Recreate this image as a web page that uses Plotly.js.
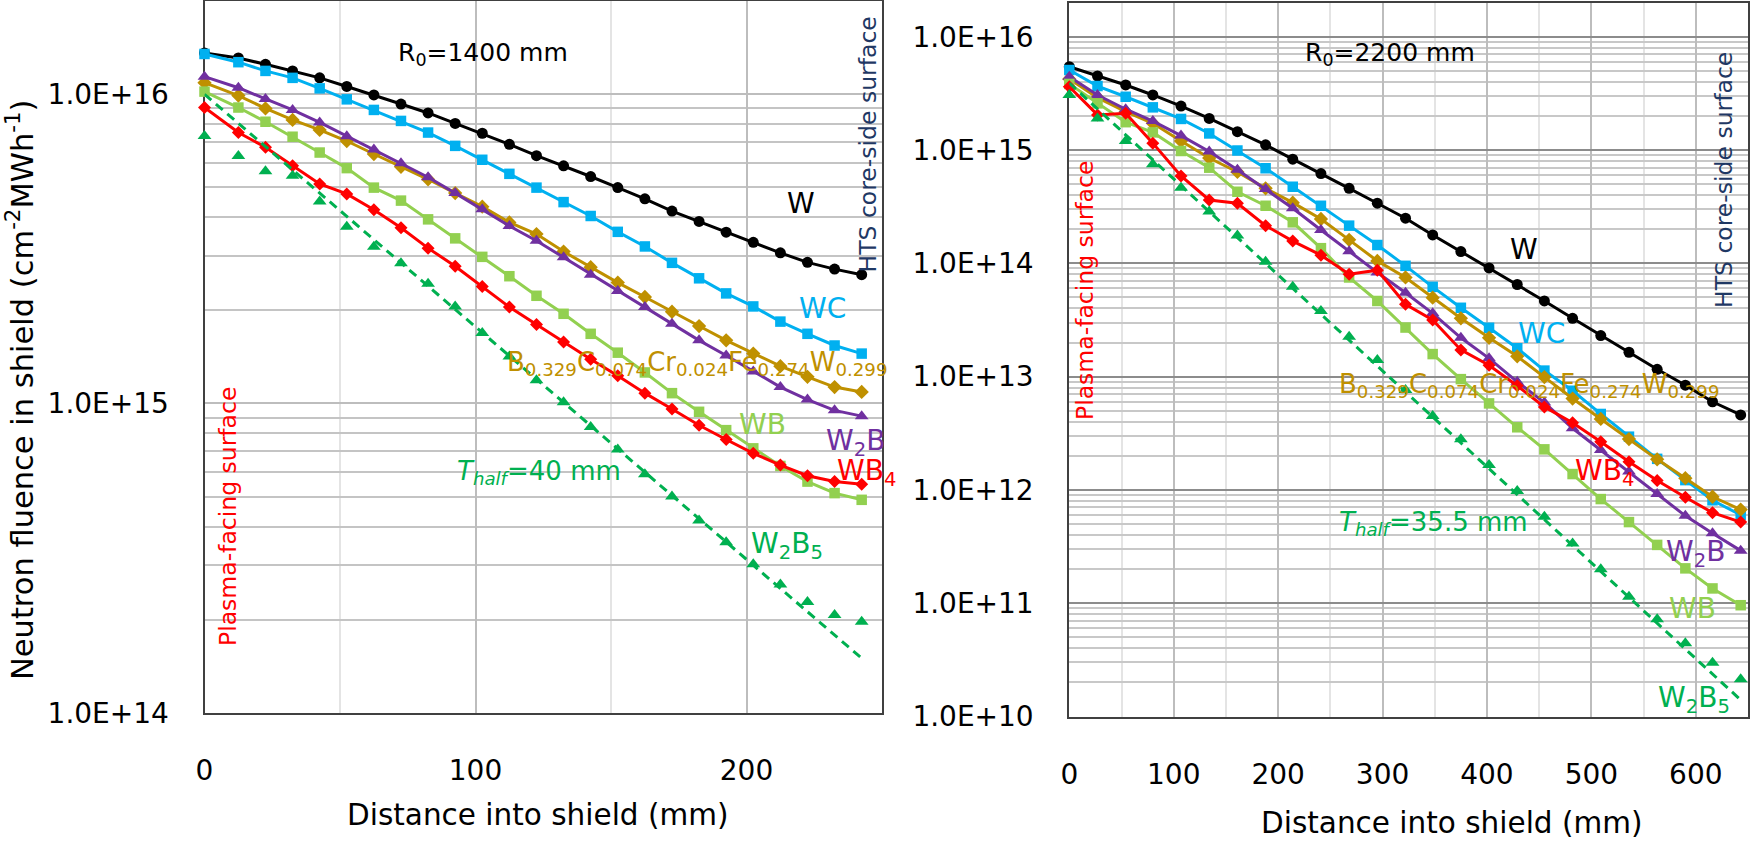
<!DOCTYPE html>
<html>
<head>
<meta charset="utf-8">
<script src="https://cdn.plot.ly/plotly-3.0.1.min.js"></script>
<style>
  html, body { margin: 0; padding: 0; background: #ffffff; }
  #chart { width: 1750px; height: 841px; }
</style>
</head>
<body>
<div id="chart"></div>
<script>
// ---- R0 = 1400 mm shield: depth (mm) and neutron fluence (cm^-2 MWh^-1) ----
const depth1400 = [0, 12.5, 22.5, 32.5, 42.5, 52.5, 62.5, 72.5, 82.5, 92.5, 102.5, 112.5, 122.5,
  132.5, 142.5, 152.5, 162.5, 172.5, 182.5, 192.5, 202.5, 212.5, 222.5, 232.5, 242.5];
const w1400 = [1.36e16, 1.31e16, 1.25e16, 1.19e16, 1.13e16, 1.06e16, 9.95e15, 9.3e15, 8.7e15, 8.05e15,
  7.48e15, 6.89e15, 6.33e15, 5.87e15, 5.42e15, 4.99e15, 4.59e15, 4.19e15, 3.88e15, 3.58e15,
  3.32e15, 3.07e15, 2.86e15, 2.72e15, 2.61e15];
const wc1400 = [1.35e16, 1.27e16, 1.19e16, 1.13e16, 1.045e16, 9.63e15, 8.9e15, 8.2e15, 7.52e15, 6.81e15,
  6.14e15, 5.53e15, 4.99e15, 4.48e15, 4.04e15, 3.59e15, 3.22e15, 2.85e15, 2.54e15, 2.27e15,
  2.06e15, 1.84e15, 1.68e15, 1.54e15, 1.45e15];
const w2b1400 = [1.14e16, 1.05e16, 9.66e15, 8.9e15, 8.11e15, 7.32e15, 6.63e15, 5.98e15, 5.39e15, 4.79e15,
  4.25e15, 3.75e15, 3.36e15, 2.97e15, 2.61e15, 2.31e15, 2.05e15, 1.81e15, 1.60e15, 1.43e15,
  1.27e15, 1.13e15, 1.03e15, 9.5e14, 9.1e14];
const alloy1400 = [1.09e16, 9.9e15, 9.0e15, 8.26e15, 7.67e15, 7.06e15, 6.41e15, 5.83e15, 5.31e15, 4.79e15,
  4.33e15, 3.85e15, 3.53e15, 3.10e15, 2.76e15, 2.46e15, 2.21e15, 1.98e15, 1.78e15, 1.60e15,
  1.45e15, 1.32e15, 1.22e15, 1.13e15, 1.09e15];
const wb1400 = [1.02e16, 9.06e15, 8.15e15, 7.29e15, 6.48e15, 5.77e15, 4.99e15, 4.53e15, 3.94e15, 3.42e15,
  2.98e15, 2.58e15, 2.23e15, 1.95e15, 1.68e15, 1.46e15, 1.26e15, 1.08e15, 9.4e14, 8.2e14,
  7.16e14, 6.28e14, 5.59e14, 5.13e14, 4.88e14];
const wb4_1400 = [9.06e15, 7.52e15, 6.74e15, 5.87e15, 5.13e15, 4.76e15, 4.23e15, 3.70e15, 3.18e15, 2.78e15,
  2.39e15, 2.05e15, 1.80e15, 1.58e15, 1.39e15, 1.23e15, 1.08e15, 9.6e14, 8.5e14, 7.65e14,
  6.9e14, 6.32e14, 5.84e14, 5.59e14, 5.48e14];
const w2b5_1400 = [7.33e15, 6.31e15, 5.64e15, 5.45e15, 4.50e15, 3.73e15, 3.21e15, 2.84e15, 2.44e15, 2.06e15,
  1.69e15, 1.42e15, 1.19e15, 1.01e15, 8.4e14, 7.1e14, 5.9e14, 5.0e14, 4.18e14, 3.56e14,
  3.02e14, 2.60e14, 2.28e14, 2.07e14, 1.97e14];
// exponential attenuation fit (T_half = 40 mm), end points
const fitDepth1400 = [0, 242.5];
const fitFluence1400 = [1.0e16, 1.5e14];

// ---- R0 = 2200 mm shield ----
const depth2200 = [0, 27, 54, 80, 107, 134, 161, 188, 214, 241, 268, 295, 322,
  348, 375, 402, 429, 455, 482, 509, 536, 563, 590, 616, 643];
const w2200 = [5.43e15, 4.50e15, 3.75e15, 3.06e15, 2.44e15, 1.90e15, 1.45e15, 1.11e15, 8.3e14, 6.2e14,
  4.59e14, 3.39e14, 2.50e14, 1.78e14, 1.27e14, 9.1e13, 6.5e13, 4.65e13, 3.27e13, 2.30e13,
  1.64e13, 1.16e13, 8.4e12, 6.0e12, 4.59e12];
const wc2200 = [5.08e15, 3.67e15, 2.95e15, 2.38e15, 1.88e15, 1.40e15, 9.9e14, 6.9e14, 4.74e14, 3.22e14,
  2.15e14, 1.45e14, 9.5e13, 6.2e13, 4.05e13, 2.70e13, 1.78e13, 1.13e13, 7.5e12, 4.68e12,
  2.95e12, 1.88e12, 1.22e12, 8.1e11, 6.0e11];
const w2b2200 = [4.44e15, 3.06e15, 2.29e15, 1.80e15, 1.34e15, 9.7e14, 6.7e14, 4.52e14, 3.06e14, 1.97e14,
  1.28e14, 8.3e13, 5.5e13, 3.62e13, 2.20e13, 1.45e13, 9.0e12, 5.9e12, 3.50e12, 2.25e12,
  1.45e12, 9.2e11, 5.9e11, 4.14e11, 2.91e11];
const alloy2200 = [4.24e15, 2.90e15, 2.18e15, 1.72e15, 1.20e15, 8.5e14, 6.4e14, 4.59e14, 3.43e14, 2.46e14,
  1.61e14, 1.05e14, 7.5e13, 4.97e13, 3.27e13, 2.20e13, 1.51e13, 9.9e12, 6.4e12, 4.23e12,
  2.81e12, 1.86e12, 1.27e12, 8.7e11, 6.7e11];
const wb2200 = [3.83e15, 2.58e15, 1.76e15, 1.43e15, 9.8e14, 6.98e14, 4.28e14, 3.22e14, 2.30e14, 1.36e14,
  7.5e13, 4.65e13, 2.71e13, 1.58e13, 9.5e12, 5.8e12, 3.57e12, 2.28e12, 1.38e12, 8.3e11,
  5.2e11, 3.27e11, 2.03e11, 1.35e11, 9.6e10];
const wb4_2200 = [3.62e15, 2.04e15, 2.11e15, 1.15e15, 5.9e14, 3.62e14, 3.39e14, 2.15e14, 1.57e14, 1.18e14,
  8.0e13, 8.7e13, 4.35e13, 3.16e13, 1.72e13, 1.26e13, 8.3e12, 5.4e12, 3.92e12, 2.66e12,
  1.77e12, 1.21e12, 8.6e11, 6.3e11, 5.2e11];
const w2b5_2200 = [3.06e15, 1.90e15, 1.20e15, 7.5e14, 4.65e14, 2.86e14, 1.76e14, 1.03e14, 6.2e13, 3.79e13,
  2.25e13, 1.40e13, 7.6e12, 4.49e12, 2.80e12, 1.66e12, 9.8e11, 5.8e11, 3.37e11, 1.99e11,
  1.14e11, 7.2e10, 4.43e10, 2.98e10, 2.13e10];
// exponential attenuation fit (T_half = 35.5 mm), end points
const fitDepth2200 = [0, 643];
const fitFluence2200 = [3.9e15, 1.4e10];

// ---- axis tick labels ----
const yTickVals1400 = [1e14, 1e15, 1e16];
const yTickText1400 = ['1.0E+14', '1.0E+15', '1.0E+16'];
const yTickVals2200 = [1e10, 1e11, 1e12, 1e13, 1e14, 1e15, 1e16];
const yTickText2200 = ['1.0E+10', '1.0E+11', '1.0E+12', '1.0E+13', '1.0E+14', '1.0E+15', '1.0E+16'];

// ---- styling ----
const FONT = 'DejaVu Sans, Verdana, sans-serif';
const W = 1750, H = 841;
const px = v => v / W;          // pixel -> paper x
const py = v => 1 - v / H;      // pixel -> paper y

const style = {
  W:     { color: '#000000', symbol: 'circle',        size: 11 },
  WC:    { color: '#00B0F0', symbol: 'square',        size: 10.5 },
  W2B:   { color: '#7030A0', symbol: 'triangle-up',   size: 12 },
  alloy: { color: '#BF9000', symbol: 'diamond',       size: 11 },
  WB:    { color: '#92D050', symbol: 'square',        size: 10.5 },
  WB4:   { color: '#FF0000', symbol: 'diamond',       size: 10 },
  W2B5:  { color: '#00B050', symbol: 'triangle-up',   size: 12 }
};

function seriesTrace(x, y, st, xa, ya, withLine) {
  return {
    x: x, y: y, type: 'scatter',
    mode: withLine ? 'lines+markers' : 'markers',
    line: { color: st.color, width: 3 },
    marker: { symbol: st.symbol, size: st.size, color: st.color, line: { width: 0 } },
    xaxis: xa, yaxis: ya, cliponaxis: false, showlegend: false, hoverinfo: 'skip'
  };
}
function fitTrace(x, y, xa, ya) {
  return {
    x: x, y: y, type: 'scatter', mode: 'lines',
    line: { color: '#00B050', width: 3, dash: '9px,6px' },
    xaxis: xa, yaxis: ya, showlegend: false, hoverinfo: 'skip'
  };
}

const traces = [
  seriesTrace(depth1400, w1400, style.W, 'x', 'y', true),
  seriesTrace(depth1400, wc1400, style.WC, 'x', 'y', true),
  seriesTrace(depth1400, alloy1400, style.alloy, 'x', 'y', true),
  seriesTrace(depth1400, w2b1400, style.W2B, 'x', 'y', true),
  seriesTrace(depth1400, wb1400, style.WB, 'x', 'y', true),
  seriesTrace(depth1400, wb4_1400, style.WB4, 'x', 'y', true),
  fitTrace(fitDepth1400, fitFluence1400, 'x', 'y'),
  seriesTrace(depth1400, w2b5_1400, style.W2B5, 'x', 'y', false),

  seriesTrace(depth2200, w2200, style.W, 'x2', 'y2', true),
  seriesTrace(depth2200, wc2200, style.WC, 'x2', 'y2', true),
  seriesTrace(depth2200, alloy2200, style.alloy, 'x2', 'y2', true),
  seriesTrace(depth2200, w2b2200, style.W2B, 'x2', 'y2', true),
  seriesTrace(depth2200, wb2200, style.WB, 'x2', 'y2', true),
  seriesTrace(depth2200, wb4_2200, style.WB4, 'x2', 'y2', true),
  fitTrace(fitDepth2200, fitFluence2200, 'x2', 'y2'),
  seriesTrace(depth2200, w2b5_2200, style.W2B5, 'x2', 'y2', false)
];

const tickFont = { family: FONT, size: 28, color: '#000000' };
const frame = { showline: true, mirror: true, linecolor: '#404040', linewidth: 2,
  ticks: '', zeroline: false, automargin: false, fixedrange: true, layer: 'below traces' };

function xAxis(domain, range, anchor) {
  return Object.assign({}, frame, {
    domain: domain, range: range, anchor: anchor,
    tickmode: 'linear', tick0: 0, dtick: 100, tickfont: tickFont, ticklabelstandoff: 32,
    showgrid: true, gridcolor: '#bdbdbd', gridwidth: 2,
    minor: { tickmode: 'linear', tick0: 0, dtick: 50, showgrid: true, gridcolor: '#e4e4e4', gridwidth: 2 }
  });
}
function yAxis(domain, range, anchor, vals, text, majorColor, minorColor) {
  return Object.assign({}, frame, {
    domain: domain, type: 'log', range: range, anchor: anchor,
    tickmode: 'array', tickvals: vals, ticktext: text, tickfont: tickFont, ticklabelstandoff: 28,
    showgrid: true, gridcolor: majorColor, gridwidth: 2,
    minor: { dtick: 'D1', showgrid: true, gridcolor: minorColor, gridwidth: 2 }
  });
}

function label(text, x, y, color, size, angle) {
  return { text: text, xref: 'paper', yref: 'paper', x: px(x), y: py(y),
    xanchor: 'center', yanchor: 'middle', showarrow: false, textangle: angle || 0,
    font: { family: FONT, size: size, color: color } };
}

const alloyText = 'B<sub>0.329</sub>C<sub>0.074</sub>Cr<sub>0.024</sub>Fe<sub>0.274</sub>W<sub>0.299</sub>';
const annotations = [
  label('R<sub>0</sub>=1400 mm', 483, 54, '#000000', 25),
  label('W', 801, 203, '#000000', 28),
  label('WC', 822, 308, style.WC.color, 28),
  label(alloyText, 697, 363, style.alloy.color, 26),
  label('WB', 762, 424, style.WB.color, 28),
  label('W<sub>2</sub>B', 855, 442, style.W2B.color, 28),
  label('WB<sub>4</sub>', 866, 472, style.WB4.color, 28),
  label('<i>T<sub>half</sub></i>=40 mm', 539, 472, style.W2B5.color, 26),
  label('W<sub>2</sub>B<sub>5</sub>', 787, 545, style.W2B5.color, 28),
  label('HTS core-side surface', 867.5, 145, '#1F3864', 23.5, -90),
  label('Plasma-facing surface', 228, 517, '#FF0000', 23.5, -90),

  label('R<sub>0</sub>=2200 mm', 1390, 54, '#000000', 25),
  label('W', 1524, 250, '#000000', 28),
  label('WC', 1541, 333, style.WC.color, 28),
  label(alloyText, 1529, 386, style.alloy.color, 26),
  label('WB<sub>4</sub>', 1604, 472, style.WB4.color, 28),
  label('W<sub>2</sub>B', 1695, 553, style.W2B.color, 28),
  label('WB', 1692, 608, style.WB.color, 28),
  label('<i>T<sub>half</sub></i>=35.5 mm', 1433, 523, style.W2B5.color, 26),
  label('W<sub>2</sub>B<sub>5</sub>', 1694, 699, style.W2B5.color, 28),
  label('HTS core-side surface', 1724, 180, '#1F3864', 23.5, -90),
  label('Plasma-facing surface', 1085, 291, '#FF0000', 23.5, -90),

  label('Distance into shield (mm)', 537.5, 815, '#000000', 29.5),
  label('Distance into shield (mm)', 1451, 823, '#000000', 29.5),
  label('Neutron fluence in shield (cm<sup>-2</sup>MWh<sup>-1</sup>)', 20, 390, '#000000', 30.5, -90)
];

const layout = {
  width: W, height: H,
  margin: { l: 0, r: 0, t: 0, b: 0, pad: 0 },
  paper_bgcolor: '#ffffff', plot_bgcolor: '#ffffff',
  showlegend: false,
  font: { family: FONT, color: '#000000' },
  xaxis:  xAxis([px(204.5), px(882)], [0, 250], 'y'),
  yaxis:  yAxis([py(712.7), py(1.2)], [14, 16.301], 'x', yTickVals1400, yTickText1400, '#bdbdbd', '#c4c4c4'),
  xaxis2: xAxis([px(1069.3), px(1748)], [0, 650], 'y2'),
  yaxis2: yAxis([py(716.5), py(2.6)], [10, 16.301], 'x2', yTickVals2200, yTickText2200, '#8c8c8c', '#c8c8c8'),
  annotations: annotations
};

Plotly.newPlot('chart', traces, layout, { staticPlot: true, displayModeBar: false });
</script>
</body>
</html>
